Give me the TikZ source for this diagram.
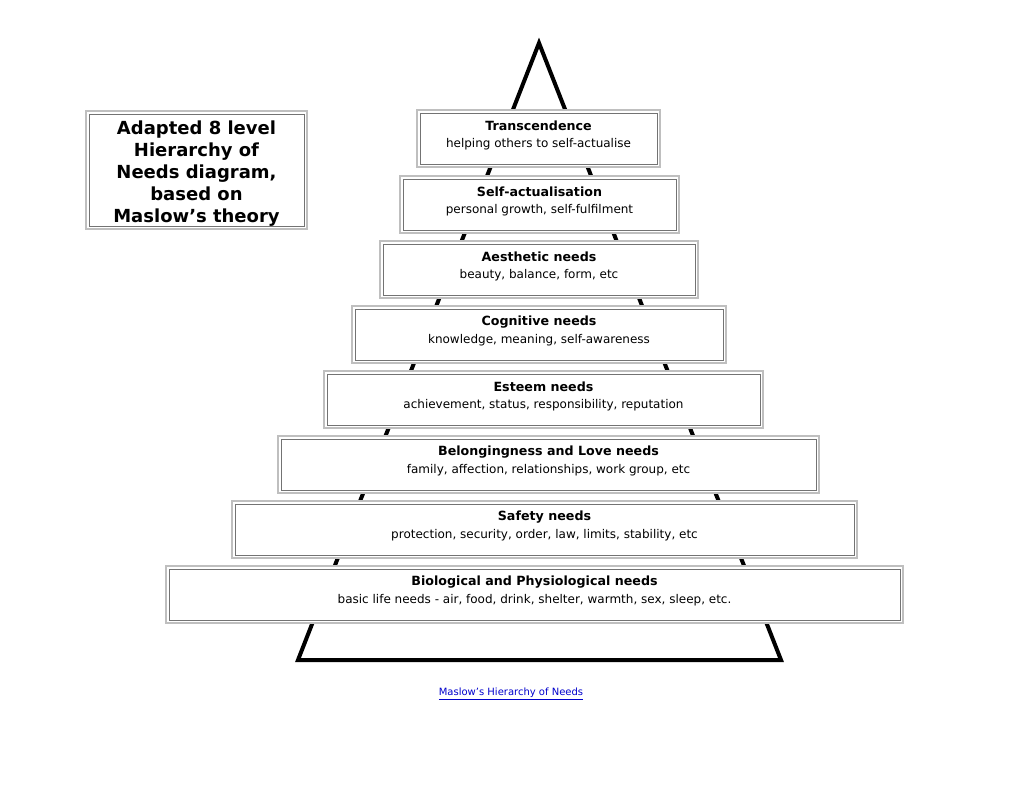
\documentclass[tikz,border=0pt]{standalone}
\usepackage{fontspec}
\setmainfont{DejaVu Sans}
\begin{document}
\begin{tikzpicture}[x=0.75pt,y=-0.75pt,
  outerb/.style={draw=black!25,fill=white,line width=0.8pt},
  innerb/.style={draw=black!55,line width=0.6pt}]
\useasboundingbox (0,0) rectangle (1023,791);
\draw[line width=3pt,line join=miter] (539,43) -- (781,660) -- (298,660) -- cycle;
\foreach \i/\l/\r/\t/\h/\s in {
 1/417/660/110/Transcendence/helping others to self-actualise,
 2/400/679/176/Self-actualisation/{personal growth, self-fulfilment},
 3/380/698/241/Aesthetic needs/{beauty, balance, form, etc},
 4/352/726/306/Cognitive needs/{knowledge, meaning, self-awareness},
 5/324/763/371/Esteem needs/{achievement, status, responsibility, reputation},
 6/278/819/436/Belongingness and Love needs/{family, affection, relationships, work group, etc},
 7/232/857/501/Safety needs/{protection, security, order, law, limits, stability, etc},
 8/166/903/566/Biological and Physiological needs/{basic life needs - air, food, drink, shelter, warmth, sex, sleep, etc.}} {
  \draw[outerb] (\l,\t) rectangle (\r,\t+57);
  \draw[innerb] (\l+3,\t+3) rectangle (\r-3,\t+54);
  \node[font=\fontsize{9.5}{11}\selectfont\bfseries] (h\i) at ({(\l+\r)/2},\t+16) {\h};
  \node[font=\fontsize{9}{11}\selectfont] (s\i) at ({(\l+\r)/2},\t+34) {\s};
}
\draw[outerb] (86,111) rectangle (307,229);
\draw[innerb] (89,114) rectangle (304,226);
\begin{scope}
\clip (89,114) rectangle (304,226);
\node[font=\fontsize{13.5}{16.5}\selectfont\bfseries,align=center,anchor=north] (title) at (196.5,116) {Adapted 8 level\\Hierarchy of\\Needs diagram,\\based on\\Maslow's theory};
\end{scope}
\node[font=\fontsize{7.5}{9}\selectfont,text=blue!80!black] (link) at (511,694) {\underline{Maslow's Hierarchy of Needs}};
\end{tikzpicture}
\end{document}
